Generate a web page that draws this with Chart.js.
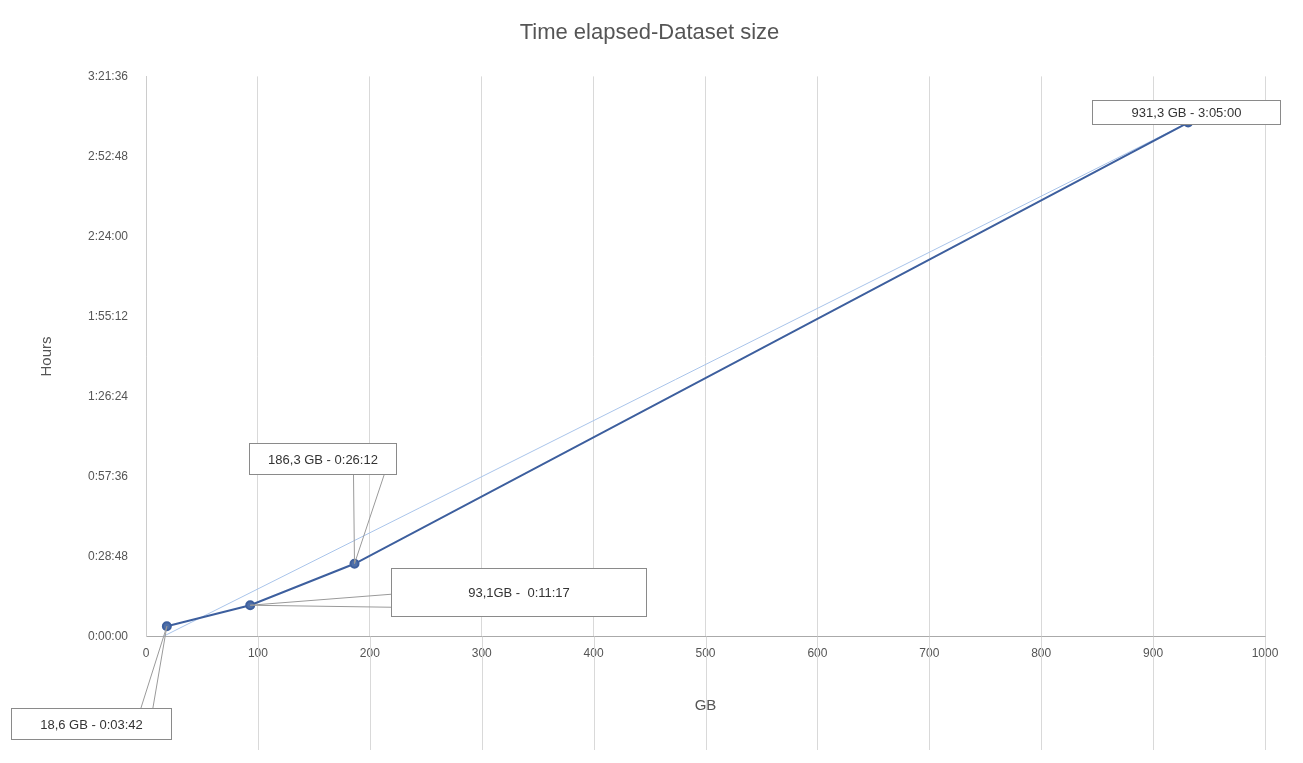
<!DOCTYPE html>
<html><head><meta charset="utf-8">
<script src="https://cdn.jsdelivr.net/npm/chart.js@4"></script>
<style>html,body{margin:0;background:#fff}#wrap{width:1303px;height:763px}</style>
</head><body><div id="wrap"><canvas id="c"></canvas></div>
<script>
// dados (GB, segundos)
const sizesGB = [18.6, 93.1, 186.3, 931.3];
const elapsedSec = [222, 677, 1572, 11100];
const pointLabels = ['18,6 GB - 0:03:42', '93,1GB -  0:11:17', '186,3 GB - 0:26:12', '931,3 GB - 3:05:00'];
const trendGB = [15, 931.3];
const trendSec = [0, 11100];

// caixas das etiquetas relativas ao ponto: dx, dy, w, h e pontos de ligação
const boxes = [
  {dx: -156, dy: 82, w: 160, h: 31, legs: [[-26, 82], [-14, 82]]},
  {dx: 141, dy: -37, w: 255, h: 48, legs: [[141, -11], [141, 2]]},
  {dx: -105, dy: -121, w: 147, h: 31, legs: [[-1, -90], [30, -90]]},
  {dx: -96, dy: -23, w: 188, h: 24, legs: [[-46, -1]]}
];

function fmt(s) {
  const h = Math.floor(s / 3600), m = Math.floor(s % 3600 / 60), x = Math.round(s % 60);
  return h + ':' + String(m).padStart(2, '0') + ':' + String(x).padStart(2, '0');
}

const extras = {
  id: 'extras',
  beforeDatasetsDraw(chart) {
    const {ctx, chartArea, scales} = chart;
    ctx.save();
    ctx.strokeStyle = '#d9d9d9';
    ctx.lineWidth = 1;
    for (let v = 100; v <= 1000; v += 100) {
      const x = Math.round(scales.x.getPixelForValue(v)) + 0.5;
      ctx.beginPath(); ctx.moveTo(x, chartArea.bottom); ctx.lineTo(x, 750); ctx.stroke();
    }
    ctx.restore();
  },
  afterDatasetsDraw(chart) {
    const {ctx} = chart;
    const meta = chart.getDatasetMeta(0);
    ctx.save();
    ctx.font = '13px "Liberation Sans", Arial';
    ctx.textAlign = 'center'; ctx.textBaseline = 'middle';
    meta.data.forEach((p, i) => {
      const b = boxes[i];
      ctx.strokeStyle = '#9a9a9a'; ctx.lineWidth = 1;
      b.legs.forEach(l => { ctx.beginPath(); ctx.moveTo(p.x, p.y); ctx.lineTo(p.x + l[0], p.y + l[1]); ctx.stroke(); });
      const x = Math.round(p.x + b.dx) + 0.5, y = Math.round(p.y + b.dy) + 0.5;
      ctx.fillStyle = '#fff'; ctx.fillRect(x, y, b.w, b.h);
      ctx.strokeStyle = '#8a8a8a'; ctx.strokeRect(x, y, b.w, b.h);
      ctx.fillStyle = '#333'; ctx.fillText(pointLabels[i], x + b.w / 2, y + b.h / 2 + 1);
    });
    ctx.restore();
  }
};

new Chart(document.getElementById('c'), {
  type: 'scatter',
  data: {
    datasets: [{
      data: sizesGB.map((g, i) => ({x: g, y: elapsedSec[i]})),
      showLine: true, borderColor: '#3d5f9e', backgroundColor: '#4f6fa8',
      borderWidth: 2, pointRadius: 4
    }, {
      data: trendGB.map((g, i) => ({x: g, y: trendSec[i]})),
      showLine: true, borderColor: '#a9c4ea', borderWidth: 1, pointRadius: 0
    }]
  },
  plugins: [extras],
  options: {
    responsive: true, maintainAspectRatio: false, animation: false,
    layout: {padding: {left: 34, right: 38, top: 0, bottom: 44}},
    plugins: {
      legend: {display: false}, tooltip: {enabled: false},
      title: {display: true, text: 'Time elapsed-Dataset size', color: '#555',
        font: {family: '"Liberation Sans", Arial', size: 22, weight: 'normal'}, padding: {top: 20, bottom: 30}}
    },
    scales: {
      x: {min: 0, max: 1000,
        ticks: {stepSize: 100, color: '#555', callback: v => String(v), font: {family: '"Liberation Sans", Arial', size: 12}, padding: 10},
        grid: {color: '#d9d9d9', drawTicks: false},
        border: {color: '#aaa'},
        title: {display: true, text: 'GB', color: '#555', font: {family: '"Liberation Sans", Arial', size: 15}, padding: {top: 26}}
      },
      y: {min: 0, max: 12096,
        ticks: {stepSize: 1728, color: '#555', callback: v => fmt(v), font: {family: '"Liberation Sans", Arial', size: 12}, padding: 10},
        grid: {display: false},
        border: {color: '#ccc'},
        title: {display: true, text: 'Hours', color: '#555', font: {family: '"Liberation Sans", Arial', size: 15}, padding: {bottom: 22}}
      }
    }
  }
});
</script></body></html>
